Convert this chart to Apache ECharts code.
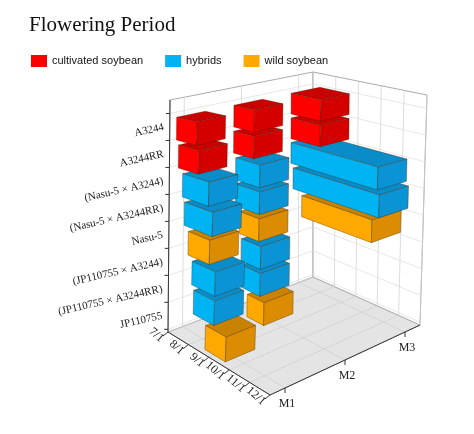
<!DOCTYPE html><html><head><meta charset="utf-8">
<script src="https://cdn.jsdelivr.net/npm/echarts@6/dist/echarts.min.js"></script>
<style>html,body{margin:0;padding:0;background:#fff}#c{width:474px;height:434px}</style></head><body><div id="c"></div>
<script>
const genotypes = ['A3244','A3244RR','(Nasu-5 × A3244)','(Nasu-5 × A3244RR)','Nasu-5','(JP110755 × A3244)','(JP110755 × A3244RR)','JP110755'];
const groups = ['cultivated soybean','cultivated soybean','hybrids','hybrids','wild soybean','hybrids','hybrids','wild soybean'];
const envs = ['M1','M2','M3'];
const dateTicks = ['7/1','8/1','9/1','10/1','11/1','12/1'];
// flowering start / end in months (7 = 7/1), per environment, per genotype (null = none)
const startM1 = [7.3,7.4,7.6,7.7,7.9,8.1,8.2,8.8];
const endM1   = [8.2,8.3,8.8,9.0,8.9,9.2,9.2,9.8];
const startM2 = [7.3,7.3,7.4,7.4,7.6,7.7,7.7,8.0];
const endM2   = [8.2,8.2,8.5,8.5,8.5,8.6,8.6,8.8];
const startM3 = [7.3,7.3,7.3,7.4,7.8,null,null,null];
const endM3   = [8.6,8.6,11.2,11.3,11.0,null,null,null];

const groupNames = ['cultivated soybean','hybrids','wild soybean'];
const palette = {
 'cultivated soybean':{front:'#ff0000',top:'#c80000',end:'#d40000'},
 'hybrids':{front:'#00b4f4',top:'#0a8cc8',end:'#0a94d6'},
 'wild soybean':{front:'#ffa800',top:'#c88200',end:'#dc8c00'}
};
const C = {p000:[168,332],p100:[270,395],p010:[313,277],p110:[420,325],
           p001:[170,100],p101:[284,123],p011:[313,72],p111:[427,95]};
function lerp(a,b,t){return [a[0]+(b[0]-a[0])*t,a[1]+(b[1]-a[1])*t];}
function proj(u,v,w){
  const b=lerp(lerp(C.p000,C.p100,u),lerp(C.p010,C.p110,u),v);
  const t=lerp(lerp(C.p001,C.p101,u),lerp(C.p011,C.p111,u),v);
  return lerp(b,t,w);
}
const HMAX=8.6;
const uOf=d=>(d-7)/5, vOf=i=>0.1+0.4*i, wOf=h=>h/HMAX;
const hOf=k=>(genotypes.length-1-k)+0.6;

const boxes=[];
[[startM1,endM1],[startM2,endM2],[startM3,endM3]].forEach(([s,e],i)=>{
  s.forEach((v,k)=>{ if(v!=null) boxes.push([i,k,v,e[k]]); });
});
boxes.sort((a,b)=> (b[0]-a[0]) || (hOf(a[1])-hOf(b[1])));

function renderBox(params,api){
  const i=api.value(0),k=api.value(1),s=api.value(2),e=api.value(3);
  const col=palette[groups[k]];
  const u0=uOf(s),u1=uOf(e),vc=vOf(i),v0=vc-0.1,v1=vc+0.1;
  const hc=hOf(k),w0=wOf(hc-0.42),w1=wOf(hc+0.42);
  const st={stroke:'rgba(60,30,0,0.55)',lineWidth:0.6};
  return {type:'group',children:[
    {type:'polygon',shape:{points:[proj(u0,v0,w1),proj(u1,v0,w1),proj(u1,v1,w1),proj(u0,v1,w1)]},style:Object.assign({fill:col.top},st)},
    {type:'polygon',shape:{points:[proj(u0,v0,w0),proj(u1,v0,w0),proj(u1,v0,w1),proj(u0,v0,w1)]},style:Object.assign({fill:col.front},st)},
    {type:'polygon',shape:{points:[proj(u1,v0,w0),proj(u1,v1,w0),proj(u1,v1,w1),proj(u1,v0,w1)]},style:Object.assign({fill:col.end},st)}
  ]};
}
function renderFrame(){
  const ch=[];const gl={stroke:'#dcdcdc',lineWidth:0.7,fill:null};const ax={stroke:'#333',lineWidth:1};
  ch.push({type:'polygon',shape:{points:[proj(0,0,0),proj(1,0,0),proj(1,1,0),proj(0,1,0)]},style:{fill:'#e4e4e4',stroke:'#bbb'}});
  ch.push({type:'polygon',shape:{points:[proj(0,0,0),proj(0,1,0),proj(0,1,1),proj(0,0,1)]},style:{fill:'#fff',stroke:'#aaa'}});
  ch.push({type:'polygon',shape:{points:[proj(0,1,0),proj(1,1,0),proj(1,1,1),proj(0,1,1)]},style:{fill:'#fff',stroke:'#aaa'}});
  for(let h=0;h<=8;h++){const w=wOf(h+0.1);
    ch.push({type:'polyline',shape:{points:[proj(0,0,w),proj(0,1,w),proj(1,1,w)]},style:gl});}
  dateTicks.forEach((t,j)=>{const u=j/5;
    ch.push({type:'polyline',shape:{points:[proj(u,0,0),proj(u,1,0),proj(u,1,1)]},style:{stroke:'#cfcfcf',lineWidth:0.7,fill:null}});
    const p=proj(u,0,0);
    ch.push({type:'line',shape:{x1:p[0],y1:p[1],x2:p[0]-5,y2:p[1]+4},style:ax});
    ch.push({type:'text',x:p[0]-6,y:p[1]+8,rotation:-0.72,style:{text:t,align:'right',verticalAlign:'middle',font:'12px "Liberation Serif"',fill:'#222'}});
  });
  envs.forEach((m,i)=>{const v=vOf(i);
    ch.push({type:'polyline',shape:{points:[proj(1,v,0),proj(0,v,0),proj(0,v,1)]},style:{stroke:'#cfcfcf',lineWidth:0.7,fill:null}});
    const p=proj(1,v,0);
    ch.push({type:'line',shape:{x1:p[0],y1:p[1],x2:p[0],y2:p[1]+5},style:ax});
    ch.push({type:'text',x:p[0]+2,y:p[1]+16,style:{text:m,align:'center',verticalAlign:'middle',font:'12px "Liberation Serif"',fill:'#222'}});
  });
  const a=proj(0,0,0),b=proj(0,0,1),c=proj(1,0,0),d=proj(1,1,0);
  ch.push({type:'line',shape:{x1:a[0],y1:a[1],x2:b[0],y2:b[1]},style:ax});
  ch.push({type:'line',shape:{x1:a[0],y1:a[1],x2:c[0],y2:c[1]},style:ax});
  ch.push({type:'line',shape:{x1:c[0],y1:c[1],x2:d[0],y2:d[1]},style:ax});
  for(let h=0;h<=8;h++){const p=proj(0,0,wOf(h+0.1));
    ch.push({type:'line',shape:{x1:p[0],y1:p[1],x2:p[0]-4,y2:p[1]},style:ax});}
  genotypes.forEach((g,k)=>{const p=proj(0,0,wOf(hOf(k)));
    ch.push({type:'text',x:p[0]-6,y:p[1],rotation:0.22,style:{text:g,align:'right',verticalAlign:'middle',font:'11px "Liberation Serif"',fill:'#222'}});});
  return {type:'group',children:ch};
}
const chart=echarts.init(document.getElementById('c'));
const series=[
 {type:'custom',coordinateSystem:'none',data:[[0]],renderItem:renderFrame,silent:true,z:1},
 {type:'custom',coordinateSystem:'none',data:boxes,renderItem:renderBox,z:2}
];
groupNames.forEach(n=>series.push({type:'custom',name:n,coordinateSystem:'none',data:[],renderItem:()=>null,itemStyle:{color:palette[n].front}}));
chart.setOption({
 animation:false,
 title:{text:'Flowering Period',left:24,top:10,textStyle:{fontFamily:'Liberation Serif',fontWeight:'normal',fontSize:21,color:'#111'}},
 legend:{left:26,top:50,icon:'rect',itemWidth:16,itemHeight:12,itemGap:22,data:groupNames,textStyle:{fontFamily:'Liberation Sans',fontSize:11,color:'#111'}},
 series:series
});
</script></body></html>
